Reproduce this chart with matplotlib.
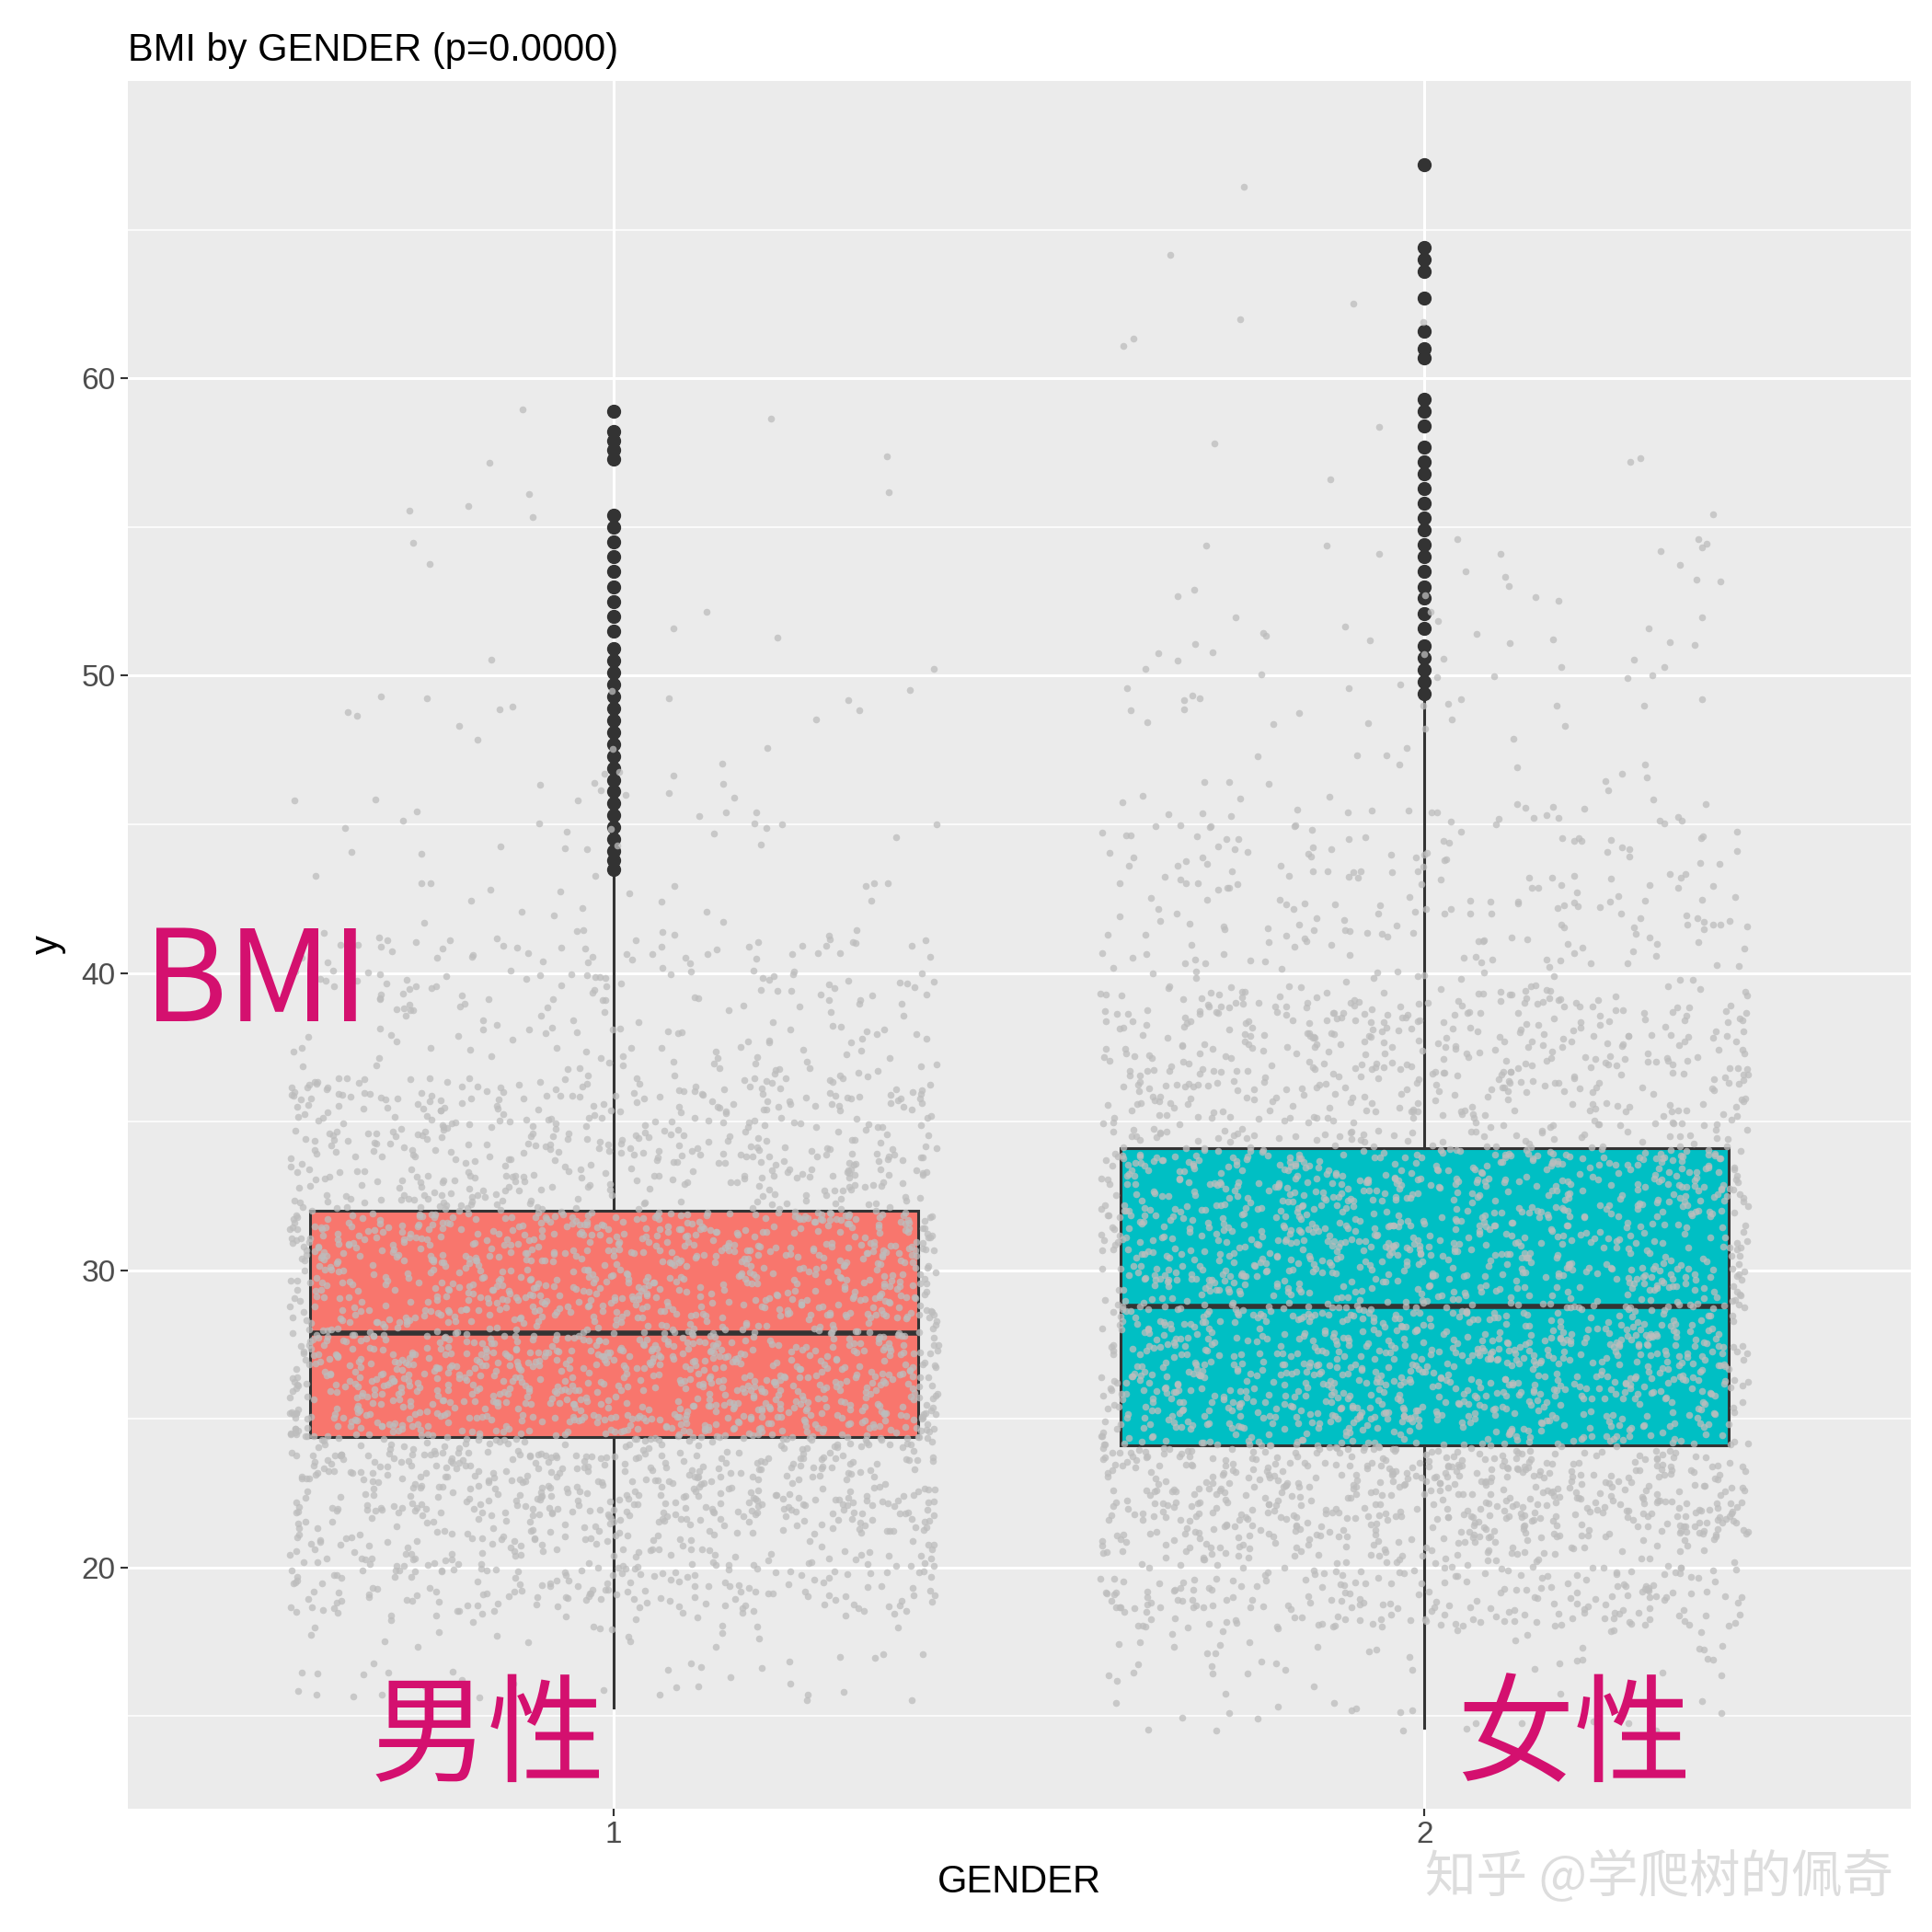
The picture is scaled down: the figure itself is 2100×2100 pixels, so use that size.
import numpy as np
import matplotlib
matplotlib.use("Agg")
import matplotlib.pyplot as plt

plt.rcParams['font.family'] = ['Liberation Sans', 'DejaVu Sans']

categories = ["1", "2"]
colors = ["#F8766D", "#00BFC4"]
# box stats: whislo, q1, med, q3, whishi
whislo = [15.3, 14.6]
q1 = [24.4, 24.1]
med = [27.9, 28.8]
q3 = [32.0, 34.1]
whishi = [43.3, 49.2]
out_male = [43.5,43.8,44.1,44.5,44.9,45.3,45.7,46.1,46.5,46.9,47.3,47.7,48.1,48.5,48.9,49.3,49.7,50.1,50.5,50.9,51.5,52.0,52.5,53.0,53.5,54.0,54.5,55.0,55.4,57.3,57.6,57.9,58.2,58.9]
out_female = [49.4,49.8,50.2,50.6,51.0,51.6,52.1,52.6,53.0,53.5,54.0,54.4,54.9,55.3,55.8,56.3,56.8,57.2,57.7,58.4,58.9,59.3,60.7,61.0,61.6,62.7,63.6,64.0,64.4,67.2]
# approximate quantiles of jitter cloud (prob, value)
qp = [0.0, 0.02, 0.1, 0.25, 0.5, 0.75, 0.9, 0.97, 0.995, 1.0]
qv_male = [15.5, 18.5, 21.5, 24.4, 27.9, 32.0, 36.5, 41.5, 50.0, 59.0]
qv_female = [14.5, 18.0, 21.0, 24.1, 28.8, 34.1, 39.5, 45.5, 55.0, 67.0]
n_points = [3200, 3600]

fig = plt.figure(figsize=(21, 21), dpi=100)
ax = fig.add_axes([0.066, 0.064, 0.923, 0.894])
ax.set_facecolor("#EBEBEB")
ax.set_xlim(0.4, 2.6)
ax.set_ylim(11.9, 70)
ax.set_yticks([20, 30, 40, 50, 60])
ax.set_yticks([15, 25, 35, 45, 55, 65], minor=True)
ax.set_xticks([1, 2])
ax.set_xticklabels(categories)
ax.grid(True, which="major", color="white", lw=2.2)
ax.grid(True, which="minor", color="white", lw=1.1)
ax.set_axisbelow(True)
for s in ax.spines.values():
    s.set_visible(False)
ax.tick_params(which="major", length=6, color="#333333", labelsize=24, labelcolor="#4D4D4D", width=1.5)
ax.tick_params(which="minor", length=0)

stats = []
for i in range(2):
    stats.append(dict(whislo=whislo[i], q1=q1[i], med=med[i], q3=q3[i], whishi=whishi[i],
                      fliers=[out_male, out_female][i]))
bp = ax.bxp(stats, positions=[1, 2], widths=0.75, patch_artist=True,
            showcaps=False,
            boxprops=dict(lw=2.2, edgecolor="#333333"),
            medianprops=dict(color="#333333", lw=4),
            whiskerprops=dict(color="#333333", lw=2.2),
            flierprops=dict(marker="o", markerfacecolor="#333333", markeredgecolor="#333333", markersize=10))
for p, c in zip(bp["boxes"], colors):
    p.set_facecolor(c)

rng = np.random.default_rng(3)
for i, qv in enumerate([qv_male, qv_female]):
    n = n_points[i]
    y = np.interp(rng.random(n), qp, qv)
    x = i + 1 + rng.uniform(-0.4, 0.4, n)
    ax.scatter(x, y, s=30, color="#BDBDBD", alpha=0.75, lw=0, zorder=5)

ax.set_xlabel("GENDER", fontsize=30, labelpad=12)
ax.set_ylabel("y", fontsize=30, labelpad=12)
ax.set_title("BMI by GENDER (p=0.0000)", loc="left", fontsize=30, pad=16, x=0.0)

cjk = ["Noto Sans CJK SC", "DejaVu Sans"]
mag = "#D4106F"
ax.text(0.42, 39.6, "BMI", fontsize=100, color=mag, va="center", ha="left", family=cjk, zorder=6)
ax.text(0.70, 14.2, "男性", fontsize=92, color=mag, va="center", ha="left", family=cjk, zorder=6)
ax.text(2.04, 14.2, "女性", fontsize=92, color=mag, va="center", ha="left", family=cjk, zorder=6)
fig.text(0.98, 0.028, "知乎 @学爬树的佩奇", fontsize=40, color="#DDDDDD", ha="right", va="center", family=cjk)

fig.savefig("out.png", dpi=100, facecolor="white")
